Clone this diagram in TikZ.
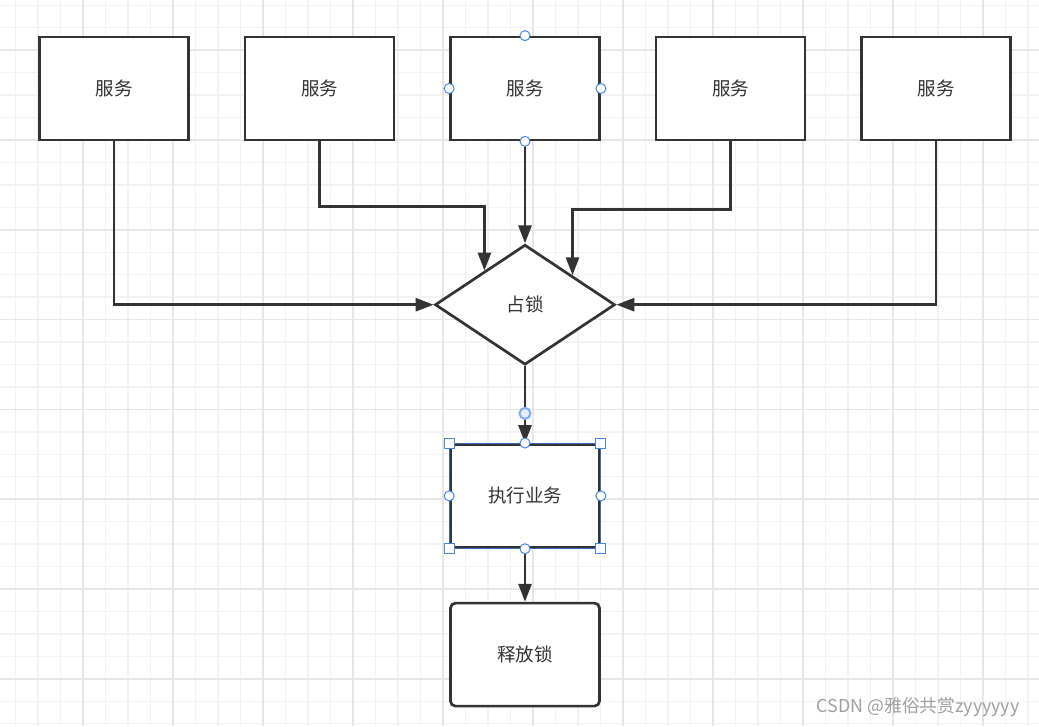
\documentclass[tikz,border=0pt]{standalone}
\usepackage{fontspec}
\usepackage{xcolor}
\usepackage{tikz}
\usetikzlibrary{shapes.geometric, arrows.meta, positioning, calc}
\newfontfamily\cjk{Noto Sans CJK SC}
\definecolor{linegray}{HTML}{333333}
\definecolor{gridminor}{HTML}{F2F2F2}
\definecolor{gridmajor}{HTML}{E6E6E6}
\definecolor{handleblue}{HTML}{4A86E8}

\begin{document}
\begin{tikzpicture}[x=1pt, y=1pt, node distance=53.8pt,
    svc/.style={rectangle, draw=linegray, line width=2.7pt, fill=white, minimum width=149pt, minimum height=103pt, font=\cjk\fontsize{18.5}{20}\selectfont, text=linegray},
    decision/.style={diamond, draw=linegray, line width=2.7pt, fill=white, aspect=1.5, inner sep=0pt, minimum width=180pt, minimum height=120pt, font=\cjk\fontsize{18.5}{20}\selectfont, text=linegray},
    terminal/.style={svc, rounded corners=5pt},
    flow/.style={draw=linegray, line width=2.8pt, -{Triangle[length=18pt, width=13pt]}},
    handle/.style={circle, draw=handleblue, line width=1pt, fill=white, inner sep=0pt, minimum size=10pt},
    hsq/.style={rectangle, draw=handleblue, line width=1pt, fill=white, inner sep=0pt, minimum size=10pt}]

    % Hintergrund
    \useasboundingbox (0,0) rectangle (1039,-726);
    \fill[white] (0,0) rectangle (1039,-726);
    \foreach \i in {0,...,45}
        \draw[gridminor, line width=1.4pt] (15.5+22.5*\i,0) -- (15.5+22.5*\i,-726);
    \foreach \j in {0,...,32}
        \draw[gridminor, line width=1.4pt] (0,-5.3-22.45*\j) -- (1039,-5.3-22.45*\j);
    \foreach \i in {3,7,...,43}
        \draw[gridmajor, line width=1.6pt] (15.5+22.5*\i,0) -- (15.5+22.5*\i,-726);
    \foreach \j in {2,6,...,30}
        \draw[gridmajor, line width=1.6pt] (0,-5.3-22.45*\j) -- (1039,-5.3-22.45*\j);

    % Knoten
    \node [svc] (svc1) at (114,-88.5) {服务};
    \node [svc, right=of svc1] (svc2) {服务};
    \node [svc, right=of svc2] (svc3) {服务};
    \node [svc, right=of svc3] (svc4) {服务};
    \node [svc, right=of svc4] (svc5) {服务};
    \node [decision, below=102pt of svc3] (lock) {占锁};
    \node [svc, below=77pt of lock] (exec) {执行业务};
    \node [terminal, below=53pt of exec] (release) {释放锁};

    % Eintrittspunkte am Rhombus
    \coordinate (in2) at ($(lock.north)!0.444!(lock.west)$);
    \coordinate (in4) at ($(lock.north)!0.52!(lock.east)$);

    % Verbindungen
    \path [flow] (svc1.south) |- (lock.west);
    \path [flow] (svc2.south) -- ++(0,-65) -| (in2);
    \path [flow] (svc3) -- (lock);
    \path [flow] (svc4.south) -- ++(0,-68) -| (in4);
    \path [flow] (svc5.south) |- (lock.east);
    \path [flow] (lock) -- (exec);
    \path [flow] (exec) -- (release);

    % Auswahl-Markierungen
    \draw[handleblue!80!black, line width=0.8pt] (exec.north west) rectangle (exec.south east);
    \foreach \a in {north, south, east, west}
        \node [handle] at (svc3.\a) {};
    \foreach \a in {north west, north east, south west, south east}
        \node [hsq] at (exec.\a) {};
    \foreach \a in {north, south, east, west}
        \node [handle] at (exec.\a) {};
    \node [handle, draw=handleblue!70, line width=2pt, fill=handleblue!15, minimum size=11pt] (conn) at ($(lock.south)!0.615!(exec.north)$) {};

    % Wasserzeichen
    \node [anchor=east, text=gray!75, font=\cjk\fontsize{17.8}{20}\selectfont] (mark) at (1023,-707) {CSDN @雅俗共赏zyyyyyy};

\end{tikzpicture}
\end{document}
